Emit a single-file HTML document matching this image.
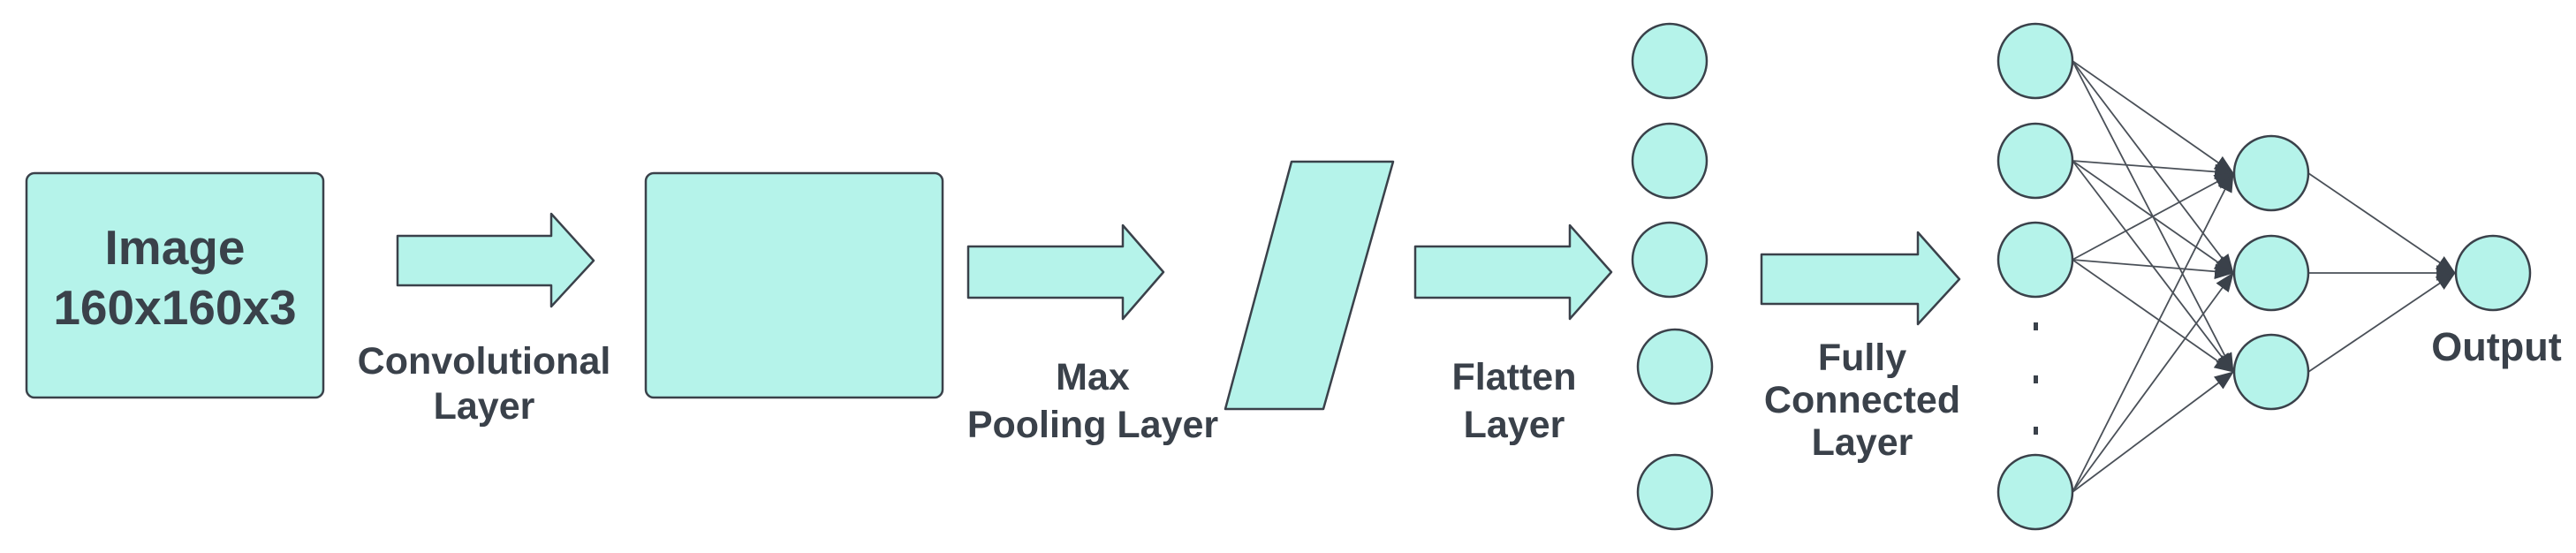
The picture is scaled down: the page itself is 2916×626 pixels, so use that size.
<!DOCTYPE html>
<html><head><meta charset="utf-8"><style>
html,body{margin:0;padding:0;background:#fff;}
svg{display:block;}
text{font-family:"Liberation Sans",sans-serif;font-weight:bold;fill:#3a414a;text-anchor:middle;}
</style></head><body>
<svg width="2916" height="626" viewBox="0 0 2916 626" xmlns="http://www.w3.org/2000/svg">
<defs>
<marker id="a" viewBox="0 0 20 20" refX="19" refY="10" markerWidth="22" markerHeight="22" orient="auto" markerUnits="userSpaceOnUse">
<path d="M0,2 L20,10 L0,18 Z" fill="#3a414a"/>
</marker>
</defs>
<g fill="#b5f3ea" stroke="#3a414a" stroke-width="2.5">
<rect x="30" y="196" width="336" height="254" rx="9"/>
<rect x="731" y="196" width="336" height="254" rx="9"/>
<path d="M1462,183 L1577,183 L1498,463 L1387,463 Z" stroke-linejoin="round"/>
<path d="M450,267 L624,267 L624,242 L672,295 L624,347 L624,323 L450,323 Z" stroke-linejoin="round"/>
<path d="M1096,279 L1271,279 L1271,255 L1317,308 L1271,361 L1271,337 L1096,337 Z" stroke-linejoin="round"/>
<path d="M1602,279 L1777,279 L1777,255 L1824,308 L1777,361 L1777,337 L1602,337 Z" stroke-linejoin="round"/>
<path d="M1994,288 L2171,288 L2171,263 L2218,316 L2171,367 L2171,344 L1994,344 Z" stroke-linejoin="round"/>
</g>
<g stroke="#4a5058" stroke-width="1.8" fill="none" marker-end="url(#a)">
<line x1="2346" y1="69" x2="2528" y2="196"/>
<line x1="2346" y1="69" x2="2528" y2="309"/>
<line x1="2346" y1="69" x2="2528" y2="421"/>
<line x1="2346" y1="182" x2="2528" y2="196"/>
<line x1="2346" y1="182" x2="2528" y2="309"/>
<line x1="2346" y1="182" x2="2528" y2="421"/>
<line x1="2346" y1="294" x2="2528" y2="196"/>
<line x1="2346" y1="294" x2="2528" y2="309"/>
<line x1="2346" y1="294" x2="2528" y2="421"/>
<line x1="2346" y1="557" x2="2528" y2="196"/>
<line x1="2346" y1="557" x2="2528" y2="309"/>
<line x1="2346" y1="557" x2="2528" y2="421"/>
<line x1="2613" y1="196" x2="2779" y2="309"/>
<line x1="2613" y1="309" x2="2779" y2="309"/>
<line x1="2613" y1="421" x2="2779" y2="309"/>
</g>
<g fill="#b5f3ea" stroke="#3a414a" stroke-width="2.5">
<ellipse cx="1890" cy="69" rx="42" ry="42"/>
<ellipse cx="1890" cy="182" rx="42" ry="42"/>
<ellipse cx="1890" cy="294" rx="42" ry="42"/>
<ellipse cx="1896" cy="415" rx="42" ry="42"/>
<ellipse cx="1896" cy="557" rx="42" ry="42"/>
<ellipse cx="2304" cy="69" rx="42" ry="42"/>
<ellipse cx="2304" cy="182" rx="42" ry="42"/>
<ellipse cx="2304" cy="294" rx="42" ry="42"/>
<ellipse cx="2304" cy="557" rx="42" ry="42"/>
<ellipse cx="2571" cy="196" rx="42" ry="42"/>
<ellipse cx="2571" cy="309" rx="42" ry="42"/>
<ellipse cx="2571" cy="421" rx="42" ry="42"/>
<ellipse cx="2822" cy="309" rx="42" ry="42"/>
</g>
<g fill="#3a414a">
<rect x="2302" y="365" width="5" height="9"/>
<rect x="2302" y="425" width="5" height="9"/>
<rect x="2302" y="483" width="5" height="9"/>
</g>
<text x="198" y="299" font-size="55">Image</text>
<text x="198" y="367" font-size="55">160x160x3</text>
<text x="548" y="423" font-size="43">Convolutional</text>
<text x="548" y="474" font-size="43">Layer</text>
<text x="1237" y="441" font-size="43">Max</text>
<text x="1237" y="495" font-size="43">Pooling Layer</text>
<text x="1714" y="441" font-size="43">Flatten</text>
<text x="1714" y="495" font-size="43">Layer</text>
<text x="2108" y="419" font-size="43">Fully</text>
<text x="2108" y="467" font-size="43">Connected</text>
<text x="2108" y="515" font-size="43">Layer</text>
<text x="2826" y="408" font-size="45">Output</text>
</svg>
</body></html>
